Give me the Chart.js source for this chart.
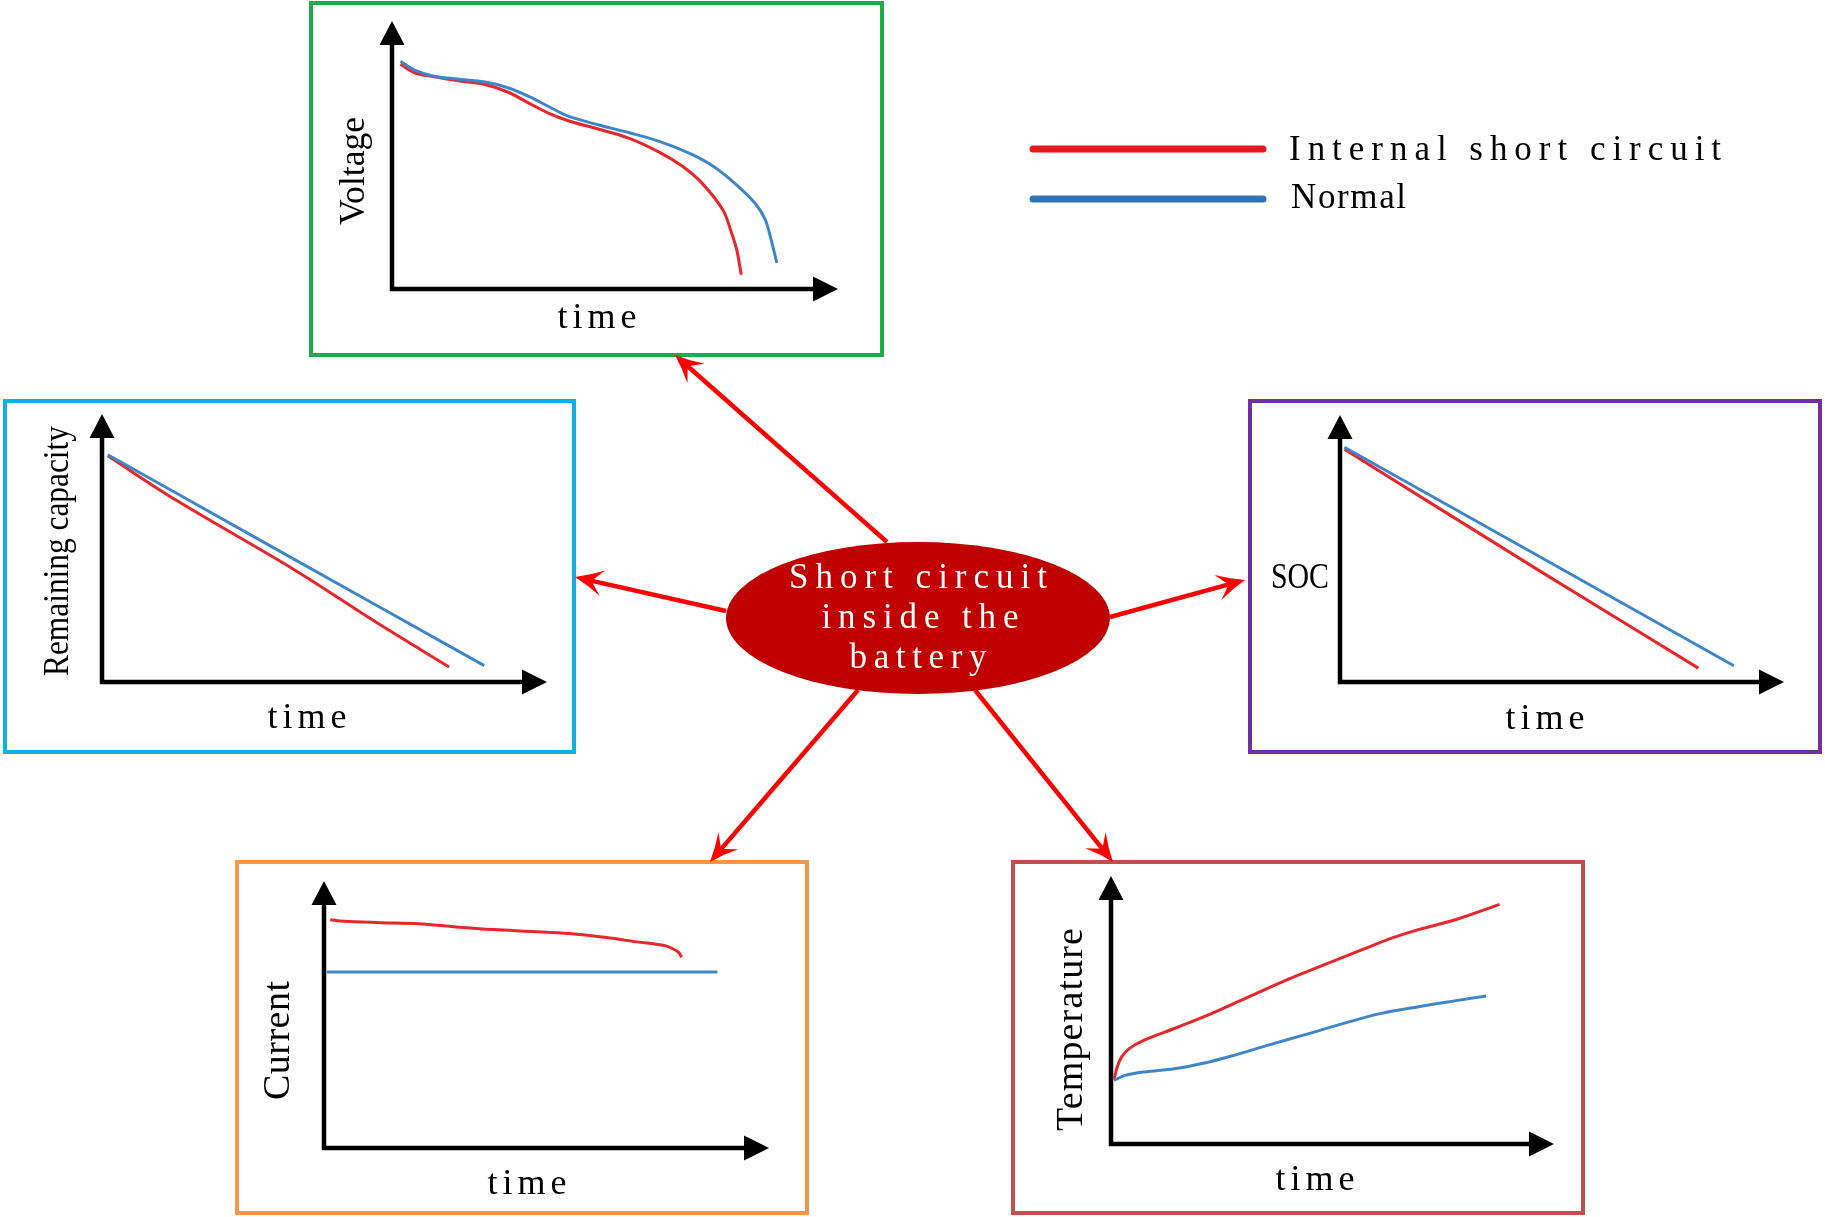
<!DOCTYPE html>
<html><head><meta charset="utf-8">
<script src="https://cdn.jsdelivr.net/npm/chart.js@4.4.1/dist/chart.umd.min.js"></script>
<style>
html,body{margin:0;padding:0;background:#fff;}
#stage{position:relative;width:1825px;height:1217px;overflow:hidden;background:#fff;}
.box{position:absolute;box-sizing:border-box;border:4px solid;}
canvas{position:absolute;}
.lbl{position:absolute;left:0;top:0;font-family:"Liberation Serif","DejaVu Serif",serif;color:#000;white-space:pre;line-height:1.2;}
.bl{display:inline-block;width:0;height:0;vertical-align:baseline;}
svg{position:absolute;left:0;top:0;}
</style></head><body><div id="stage"></div>
<script>
// ---------------- data (axis units: 0..100 from origin to arrow tip) ----------------
const seriesNames = ['Internal short circuit', 'Normal'];
const xTitle = 'time';
const centerText = ['Short circuit', 'inside the', 'battery'];

const voltageShort = [[1.9,83.9],[5.2,80.6],[9.4,79.2],[15.5,77.5],[20.6,76.4],[25.8,73.6],[30.9,69.2],[35.2,65.5],[39.5,62.8],[46.4,59.6],[53.2,56.2],[60.1,50.9],[65.2,45.7],[69.5,39.5],[74.2,29.5],[75.9,22.1],[77.3,14.6],[78.3,5.3]];
const voltageNormal = [[1.9,85.0],[5.2,81.6],[9.4,79.4],[15.5,78.2],[20.6,77.3],[25.8,75.2],[30.9,71.7],[35.2,68.0],[39.5,64.5],[46.4,61.2],[53.2,58.3],[60.1,55.0],[67.0,50.4],[72.1,45.7],[77.3,38.8],[81.5,31.8],[83.7,25.8],[85.0,18.4],[86.3,9.7]];

const capacityShort = [[1.3,84.4],[16.9,67.6],[43.1,42.0],[61.8,22.1],[78.0,5.6]];
const capacityNormal = [[1.3,84.8],[36.4,52.1],[85.9,6.1]];

const socShort = [[1.0,87.2],[44.6,42.0],[80.7,5.2]];
const socNormal = [[1.0,87.9],[44.6,47.3],[88.7,6.1]];

const currentShort = [[1.4,85.5],[4.4,84.9],[12.8,84.4],[21.3,84.0],[29.7,82.8],[38.2,81.8],[46.6,81.1],[55.1,80.3],[63.5,78.8],[70.3,77.2],[76.2,75.9],[77.9,75.0],[79.6,73.4],[80.4,71.5]];
const currentNormal = [[0.6,65.9],[88.4,65.9]];

const tempShort = [[0.7,24.0],[1.4,28.75],[2.4,32.5],[4.1,35.6],[7.5,38.75],[14.3,43.1],[22.8,48.75],[31.2,55.0],[39.7,61.25],[48.2,66.9],[56.7,72.5],[63.5,76.9],[69.4,80.0],[77.9,83.75],[87.7,89.4]];
const tempNormal = [[0.7,23.75],[3.2,25.6],[7.5,26.9],[14.3,28.1],[21.1,30.25],[27.0,32.75],[35.5,36.9],[44.0,40.9],[52.5,45.0],[61.0,48.75],[69.4,51.25],[77.9,53.5],[84.7,55.25]];

// ---------------- styles / layout ----------------
const RED = '#e8262b', BLUE = '#3f86c8';
const stage = document.getElementById('stage');

const panels = [
  {color:'#1fab4b', box:[311,3,882,355], origin:[392,289], tip:[838,21], yLabel:'Voltage', yBase:364, yMid:171, yF:36, yLen:108, rot:true, tPos:[597,328], s:voltageShort, n:voltageNormal},
  {color:'#12aeea', box:[5,401,574,752], origin:[102,682], tip:[547,414], yLabel:'Remaining capacity', yBase:68, yMid:551, yF:35, yLen:250, rot:true, tPos:[307,728], s:capacityShort, n:capacityNormal},
  {color:'#7030a0', box:[1250,401,1820,752], origin:[1340,682], tip:[1784,415], yLabel:'SOC', yBase:588, yMid:1300, yF:36, yLen:58, rot:false, tPos:[1545,729], s:socShort, n:socNormal},
  {color:'#f79646', box:[237,862,807,1213], origin:[323.5,1148], tip:[768.5,881], yLabel:'Current', yBase:289, yMid:1040, yF:38, yLen:119, rot:true, tPos:[527,1194], s:currentShort, n:currentNormal},
  {color:'#c0504d', box:[1013,862,1583,1213], origin:[1111,1144], tip:[1554,876], yLabel:'Temperature', yBase:1082, yMid:1029, yF:38, yLen:203, rot:true, tPos:[1315,1190], s:tempShort, n:tempNormal}
];

const NS = 'http://www.w3.org/2000/svg';
const svg = document.createElementNS(NS,'svg');
svg.setAttribute('width','1825'); svg.setAttribute('height','1217');

panels.forEach(p=>{
  const d = document.createElement('div');
  d.className='box';
  const [l,t,r,b]=p.box;
  d.style.left=(l-2)+'px'; d.style.top=(t-2)+'px';
  d.style.width=(r-l+4)+'px'; d.style.height=(b-t+4)+'px';
  d.style.borderColor=p.color;
  stage.appendChild(d);
});

const axisArrows = {
  id:'axisArrows',
  beforeDatasetsDraw(chart){
    const {ctx, scales:{x,y}} = chart;
    const x0=x.getPixelForValue(0), x1=x.getPixelForValue(100);
    const y0=y.getPixelForValue(0), y1=y.getPixelForValue(100);
    ctx.save();
    ctx.strokeStyle='#000'; ctx.fillStyle='#000'; ctx.lineWidth=4.5; ctx.lineCap='square'; ctx.lineJoin='miter';
    ctx.beginPath(); ctx.moveTo(x0,y1+20); ctx.lineTo(x0,y0); ctx.lineTo(x1-20,y0); ctx.stroke();
    ctx.beginPath(); ctx.moveTo(x0,y1); ctx.lineTo(x0-12.5,y1+24); ctx.lineTo(x0+12.5,y1+24); ctx.closePath(); ctx.fill();
    ctx.beginPath(); ctx.moveTo(x1,y0); ctx.lineTo(x1-25,y0-12.5); ctx.lineTo(x1-25,y0+12.5); ctx.closePath(); ctx.fill();
    ctx.restore();
  }
};

const PAD=30;
panels.forEach(p=>{
  const cv=document.createElement('canvas');
  const w=p.tip[0]-p.origin[0]+2*PAD, h=p.origin[1]-p.tip[1]+2*PAD;
  cv.width=w; cv.height=h;
  cv.style.left=(p.origin[0]-PAD)+'px'; cv.style.top=(p.tip[1]-PAD)+'px';
  cv.style.width=w+'px'; cv.style.height=h+'px';
  stage.appendChild(cv);
  const toPts=a=>a.map(([x,y])=>({x,y}));
  new Chart(cv,{
    type:'line',
    data:{datasets:[
      {label:seriesNames[1], data:toPts(p.n), borderColor:BLUE, borderWidth:3, pointRadius:0, tension:0.35, fill:false},
      {label:seriesNames[0], data:toPts(p.s), borderColor:RED, borderWidth:3, pointRadius:0, tension:0.35, fill:false}
    ]},
    options:{
      responsive:false, animation:false, devicePixelRatio:1,
      layout:{padding:PAD},
      scales:{
        x:{type:'linear',min:0,max:100,display:false},
        y:{type:'linear',min:0,max:100,display:false}
      },
      plugins:{legend:{display:false},tooltip:{enabled:false}}
    },
    plugins:[axisArrows]
  });
});

// ---- text helper: fit text to a target visible length by letter spacing (or squeeze) ----
function makeText(text,F,len,color){
  const d=document.createElement('div'); d.className='lbl';
  d.style.fontSize=F+'px'; if(color) d.style.color=color;
  const tn=document.createElement('span'); tn.textContent=text; d.appendChild(tn);
  const bl=document.createElement('span'); bl.className='bl'; d.appendChild(bl);
  stage.appendChild(d);
  const w0=tn.getBoundingClientRect().width, n=[...text].length;
  let sx=1;
  if(w0<len && n>1){ tn.style.letterSpacing=((len-w0)/(n-1)).toFixed(2)+'px'; }
  else if(w0>len){ sx=len/w0; }
  const r=d.getBoundingClientRect();
  const b=bl.getBoundingClientRect().bottom-r.top;
  return {d,b,sx};
}
function hText(text,cx,baseY,F,len,color){
  const t=makeText(text,F,len,color);
  t.d.style.transformOrigin='0 0';
  t.d.style.transform='scaleX('+t.sx+')';
  t.d.style.left=(cx-len/2)+'px'; t.d.style.top=(baseY-t.b)+'px';
}
function leftText(text,x,baseY,F,len){
  const t=makeText(text,F,len);
  t.d.style.transformOrigin='0 0';
  t.d.style.transform='scaleX('+t.sx+')';
  t.d.style.left=x+'px'; t.d.style.top=(baseY-t.b)+'px';
}
function vText(text,baseX,midY,F,len){
  const t=makeText(text,F,len);
  t.d.style.transformOrigin='0px '+t.b+'px';
  t.d.style.left=baseX+'px'; t.d.style.top=(midY+len/2-t.b)+'px';
  t.d.style.transform='rotate(-90deg) scaleX('+t.sx+')';
}

panels.forEach(p=>{
  hText(xTitle,p.tPos[0],p.tPos[1],36,79);
  if(p.rot) vText(p.yLabel,p.yBase,p.yMid,p.yF,p.yLen);
  else hText(p.yLabel,p.yMid,p.yBase,p.yF,p.yLen);
});

// arrows from ellipse
const arrows=[[[887,542],[675,355]],[[726,611],[575,577]],[[1110,617],[1245,580]],[[858,690],[710,862]],[[975,690],[1113,862]]];
arrows.forEach(([s,t])=>{
  const dx=t[0]-s[0], dy=t[1]-s[1], L=Math.hypot(dx,dy), ux=dx/L, uy=dy/L, nx=-uy, ny=ux;
  const ln=document.createElementNS(NS,'line');
  ln.setAttribute('x1',s[0]); ln.setAttribute('y1',s[1]);
  ln.setAttribute('x2',t[0]-ux*14); ln.setAttribute('y2',t[1]-uy*14);
  ln.setAttribute('stroke','#ff0000'); ln.setAttribute('stroke-width','4.5');
  svg.appendChild(ln);
  const P=(a,b)=>[(t[0]-ux*a+nx*b).toFixed(1),(t[1]-uy*a+ny*b).toFixed(1)].join(',');
  const path=document.createElementNS(NS,'path');
  path.setAttribute('d',`M${P(0,0)} Q${P(14,5)} ${P(28,13)} L${P(17,0)} L${P(28,-13)} Q${P(14,-5)} ${P(0,0)} Z`);
  path.setAttribute('fill','#ff0000');
  svg.appendChild(path);
});
const ell=document.createElementNS(NS,'ellipse');
ell.setAttribute('cx',918); ell.setAttribute('cy',618); ell.setAttribute('rx',192); ell.setAttribute('ry',76);
ell.setAttribute('fill','#c00000');
svg.appendChild(ell);

[[149,'#e31a1c'],[199,'#2e75b6']].forEach(([y,c])=>{
  const ln=document.createElementNS(NS,'line');
  ln.setAttribute('x1',1033); ln.setAttribute('x2',1263); ln.setAttribute('y1',y); ln.setAttribute('y2',y);
  ln.setAttribute('stroke',c); ln.setAttribute('stroke-width','7'); ln.setAttribute('stroke-linecap','round');
  svg.appendChild(ln);
});
stage.appendChild(svg);

// center text
hText(centerText[0],918,588,35,258,'#fff');
hText(centerText[1],920,628,35,197,'#fff');
hText(centerText[2],918,668,35,137,'#fff');
// legend text
leftText(seriesNames[0],1289,160,35,432);
leftText(seriesNames[1],1291,208,35,115);
</script>
</body></html>
